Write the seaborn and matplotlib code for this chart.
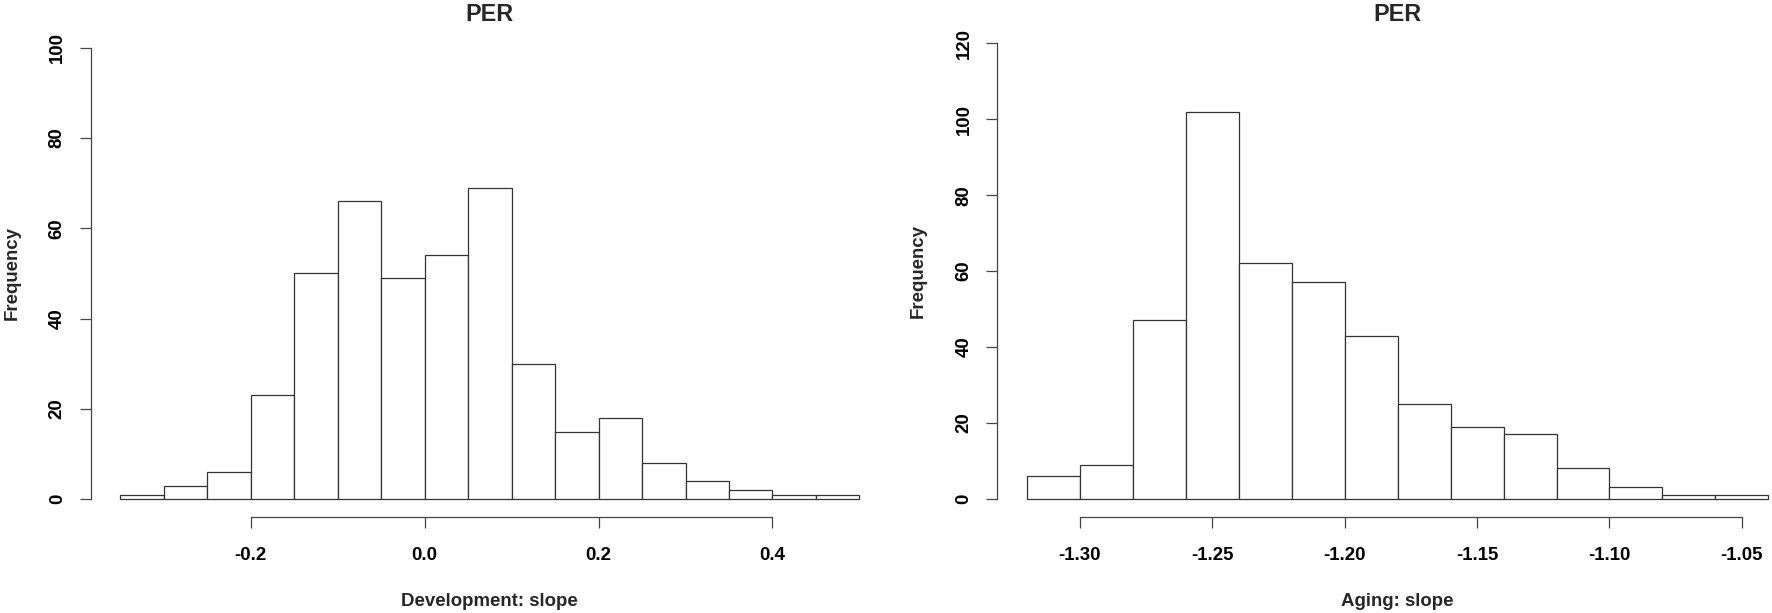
import matplotlib
matplotlib.use("Agg")
import numpy as np
import matplotlib.pyplot as plt
import seaborn as sns

# histogram breaks and counts
dev_breaks = [-0.35, -0.30, -0.25, -0.20, -0.15, -0.10, -0.05, 0.00, 0.05,
              0.10, 0.15, 0.20, 0.25, 0.30, 0.35, 0.40, 0.45, 0.50]
dev_counts = [1, 3, 6, 23, 50, 66, 49, 54, 69, 30, 15, 18, 8, 4, 2, 1, 1]
dev_xticks = [-0.2, 0.0, 0.2, 0.4]
dev_xlabels = ["-0.2", "0.0", "0.2", "0.4"]
dev_yticks = [0, 20, 40, 60, 80, 100]

aging_breaks = [-1.32, -1.30, -1.28, -1.26, -1.24, -1.22, -1.20, -1.18,
                -1.16, -1.14, -1.12, -1.10, -1.08, -1.06, -1.04]
aging_counts = [6, 9, 47, 102, 62, 57, 43, 25, 19, 17, 8, 3, 1, 1]
aging_xticks = [-1.30, -1.25, -1.20, -1.15, -1.10, -1.05]
aging_xlabels = ["-1.30", "-1.25", "-1.20", "-1.15", "-1.10", "-1.05"]
aging_yticks = [0, 20, 40, 60, 80, 100, 120]

sns.set_style("white")
plt.rcParams["font.family"] = ["Liberation Sans", "DejaVu Sans"]
plt.rcParams["font.weight"] = "bold"

W, H = 1772, 613
fig = plt.figure(figsize=(W / 100, H / 100), dpi=100)

LINE = "#444444"
FS = 13.4


def px_axes(left, top, right, bottom):
    return fig.add_axes([left / W, 1 - bottom / H, (right - left) / W, (bottom - top) / H])


def draw(ax, breaks, counts, xticks, xlabels, yticks, ymax, xlabel):
    b = np.array(breaks)
    mids = (b[:-1] + b[1:]) / 2
    sns.histplot(x=mids, weights=counts, bins=breaks, ax=ax, color="white",
                 edgecolor="#333333", linewidth=0.9, alpha=1.0, stat="count")
    span = breaks[-1] - breaks[0]
    ax.set_xlim(breaks[0] - 0.04 * span, breaks[-1] + 0.04 * span)
    ax.set_ylim(-0.04 * ymax, 1.04 * ymax)
    for s in ["top", "right"]:
        ax.spines[s].set_visible(False)
    for s in ["left", "bottom"]:
        ax.spines[s].set_color(LINE)
        ax.spines[s].set_linewidth(0.9)
    ax.spines["left"].set_bounds(yticks[0], yticks[-1])
    ax.spines["bottom"].set_bounds(xticks[0], xticks[-1])
    ax.set_xticks(xticks)
    ax.set_xticklabels(xlabels)
    ax.set_yticks(yticks)
    ax.set_yticklabels([str(v) for v in yticks], rotation=90, va="center")
    ax.tick_params(bottom=True, left=True, direction="out", length=7.9, width=0.9,
                   color=LINE, labelsize=FS, labelcolor="black")
    ax.tick_params(axis="x", pad=13.5)
    ax.tick_params(axis="y", pad=10)
    ax.set_xlabel(xlabel, fontsize=FS, fontweight="bold", va="top")
    ax.set_ylabel("Frequency", fontsize=FS, fontweight="bold", va="center")
    ax.grid(False)


ax1 = px_axes(90.7, 29.6, 889, 517.3)
draw(ax1, dev_breaks, dev_counts, dev_xticks, dev_xlabels, dev_yticks, 100,
     "Development: slope")
ax1.xaxis.set_label_coords(0.5, (517.3 - 593) / (517.3 - 29.6))
ax1.yaxis.set_label_coords((12 - 90.7) / (889 - 90.7), 0.5)
fig.text(489 / W, 1 - 14.3 / H, "PER", ha="center", va="center",
         fontsize=16.8, fontweight="bold")

ax2 = px_axes(997.3, 25.1, 1798, 517)
draw(ax2, aging_breaks, aging_counts, aging_xticks, aging_xlabels, aging_yticks, 120,
     "Aging: slope")
ax2.xaxis.set_label_coords(0.5, (517 - 593) / (517 - 25.1))
ax2.yaxis.set_label_coords((12 - 90.7) / (1798 - 997.3), 0.5)
fig.text(1397 / W, 1 - 14.3 / H, "PER", ha="center", va="center",
         fontsize=16.8, fontweight="bold")

fig.savefig("out.png", dpi=100)
